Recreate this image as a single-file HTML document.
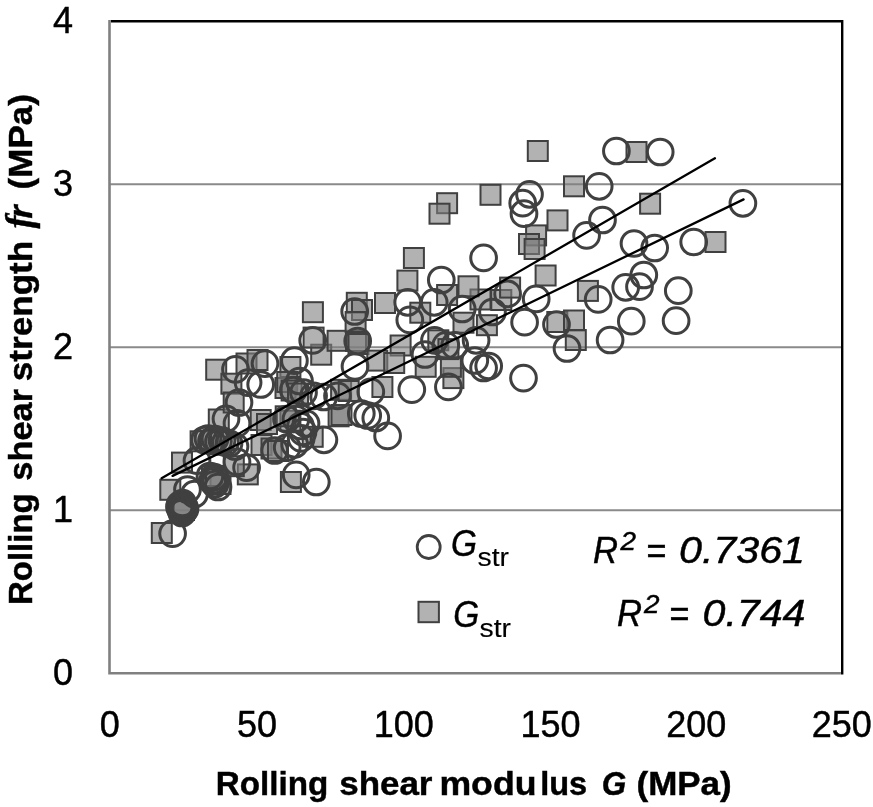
<!DOCTYPE html>
<html lang="en"><head><meta charset="utf-8"><title>Rolling shear strength vs modulus</title>
<style>
html,body{margin:0;padding:0;background:#fff;}
body{width:873px;height:807px;overflow:hidden;font-family:"Liberation Sans",sans-serif;}
svg{display:block;}
text{font-family:"Liberation Sans",sans-serif;fill:#000;stroke:#000;stroke-width:.45px;}
.tk{font-size:36px;}
.ti{font-size:33.5px;font-weight:bold;}
.it{font-style:italic;}
.lt text{stroke-width:.12px;}
.sq{fill:#7f7f7f;fill-opacity:.6;stroke:#404040;stroke-width:2;}
.ci{fill:none;stroke:#404040;stroke-width:3;}
</style></head><body>
<svg width="873" height="807" viewBox="0 0 873 807">
<rect width="873" height="807" fill="#fff"/>
<g stroke="#8a8a8a" stroke-width="2" fill="none">
<line x1="109.5" y1="510.2" x2="842.2" y2="510.2"/>
<line x1="109.5" y1="347.2" x2="842.2" y2="347.2"/>
<line x1="109.5" y1="184.3" x2="842.2" y2="184.3"/>
</g>
<g class="sq">
<rect x="151.8" y="523.0" width="20" height="20"/>
<rect x="160.3" y="479.8" width="20" height="20"/>
<rect x="171.0" y="497.0" width="20" height="20"/>
<rect x="174.0" y="500.0" width="20" height="20"/>
<rect x="172.0" y="452.6" width="20" height="20"/>
<rect x="190.6" y="431.3" width="20" height="20"/>
<rect x="208.8" y="409.5" width="20" height="20"/>
<rect x="206.2" y="359.7" width="20" height="20"/>
<rect x="210.5" y="474.0" width="20" height="20"/>
<rect x="237.8" y="464.4" width="20" height="20"/>
<rect x="223.8" y="456.2" width="20" height="20"/>
<rect x="201.0" y="430.5" width="20" height="20"/>
<rect x="211.0" y="432.0" width="20" height="20"/>
<rect x="202.0" y="466.0" width="20" height="20"/>
<rect x="206.0" y="469.0" width="20" height="20"/>
<rect x="172.5" y="498.5" width="20" height="20"/>
<rect x="280.9" y="472.0" width="20" height="20"/>
<rect x="221.4" y="373.7" width="20" height="20"/>
<rect x="236.5" y="353.5" width="20" height="20"/>
<rect x="247.5" y="350.0" width="20" height="20"/>
<rect x="223.7" y="392.5" width="20" height="20"/>
<rect x="250.7" y="410.0" width="20" height="20"/>
<rect x="257.0" y="414.0" width="20" height="20"/>
<rect x="251.5" y="435.0" width="20" height="20"/>
<rect x="261.5" y="438.5" width="20" height="20"/>
<rect x="268.0" y="441.0" width="20" height="20"/>
<rect x="280.4" y="357.0" width="20" height="20"/>
<rect x="275.5" y="378.0" width="20" height="20"/>
<rect x="277.2" y="372.0" width="20" height="20"/>
<rect x="281.6" y="380.5" width="20" height="20"/>
<rect x="288.0" y="383.5" width="20" height="20"/>
<rect x="280.4" y="410.7" width="20" height="20"/>
<rect x="275.7" y="406.3" width="20" height="20"/>
<rect x="311.2" y="344.7" width="20" height="20"/>
<rect x="327.6" y="330.8" width="20" height="20"/>
<rect x="346.0" y="331.0" width="20" height="20"/>
<rect x="348.5" y="334.0" width="20" height="20"/>
<rect x="303.6" y="327.6" width="20" height="20"/>
<rect x="331.1" y="379.8" width="20" height="20"/>
<rect x="338.7" y="381.0" width="20" height="20"/>
<rect x="328.6" y="406.3" width="20" height="20"/>
<rect x="331.5" y="405.0" width="20" height="20"/>
<rect x="302.7" y="426.8" width="20" height="20"/>
<rect x="302.9" y="302.2" width="20" height="20"/>
<rect x="346.8" y="292.8" width="20" height="20"/>
<rect x="352.0" y="300.0" width="20" height="20"/>
<rect x="345.6" y="312.0" width="20" height="20"/>
<rect x="375.0" y="293.0" width="20" height="20"/>
<rect x="397.4" y="270.6" width="20" height="20"/>
<rect x="403.9" y="248.0" width="20" height="20"/>
<rect x="410.3" y="302.7" width="20" height="20"/>
<rect x="390.6" y="335.5" width="20" height="20"/>
<rect x="367.3" y="350.6" width="20" height="20"/>
<rect x="384.2" y="353.0" width="20" height="20"/>
<rect x="372.4" y="377.0" width="20" height="20"/>
<rect x="443.4" y="368.1" width="20" height="20"/>
<rect x="440.9" y="356.8" width="20" height="20"/>
<rect x="415.7" y="356.8" width="20" height="20"/>
<rect x="428.3" y="330.3" width="20" height="20"/>
<rect x="438.4" y="339.1" width="20" height="20"/>
<rect x="453.5" y="312.7" width="20" height="20"/>
<rect x="476.9" y="315.2" width="20" height="20"/>
<rect x="491.3" y="290.0" width="20" height="20"/>
<rect x="470.5" y="289.5" width="20" height="20"/>
<rect x="437.1" y="285.0" width="20" height="20"/>
<rect x="547.3" y="312.0" width="20" height="20"/>
<rect x="527.8" y="141.0" width="20" height="20"/>
<rect x="480.5" y="184.8" width="20" height="20"/>
<rect x="437.1" y="193.2" width="20" height="20"/>
<rect x="429.5" y="203.7" width="20" height="20"/>
<rect x="547.5" y="210.4" width="20" height="20"/>
<rect x="526.1" y="225.4" width="20" height="20"/>
<rect x="519.0" y="234.0" width="20" height="20"/>
<rect x="524.6" y="239.0" width="20" height="20"/>
<rect x="535.6" y="265.5" width="20" height="20"/>
<rect x="458.5" y="276.3" width="20" height="20"/>
<rect x="500.1" y="277.6" width="20" height="20"/>
<rect x="626.5" y="142.0" width="20" height="20"/>
<rect x="564.0" y="176.3" width="20" height="20"/>
<rect x="640.1" y="193.7" width="20" height="20"/>
<rect x="705.5" y="232.0" width="20" height="20"/>
<rect x="577.9" y="280.9" width="20" height="20"/>
<rect x="564.0" y="310.5" width="20" height="20"/>
<rect x="565.8" y="330.0" width="20" height="20"/>
</g>
<g class="ci">
<circle cx="172.6" cy="533.6" r="12.85"/>
<circle cx="208.0" cy="438.5" r="12.85"/>
<circle cx="218.5" cy="441.5" r="12.85"/>
<circle cx="225.5" cy="442.5" r="12.85"/>
<circle cx="229.0" cy="443.5" r="12.85"/>
<circle cx="210.0" cy="476.0" r="12.85"/>
<circle cx="212.5" cy="481.0" r="12.85"/>
<circle cx="179.5" cy="507.0" r="12.85"/>
<circle cx="185.0" cy="509.0" r="12.85"/>
<circle cx="182.0" cy="513.0" r="12.85"/>
<circle cx="183.0" cy="505.0" r="12.85"/>
<circle cx="300.5" cy="426.0" r="12.85"/>
<circle cx="303.0" cy="432.0" r="12.85"/>
<circle cx="180.0" cy="505.0" r="12.85"/>
<circle cx="182.0" cy="508.0" r="12.85"/>
<circle cx="183.5" cy="511.0" r="12.85"/>
<circle cx="181.0" cy="510.5" r="12.85"/>
<circle cx="184.0" cy="506.5" r="12.85"/>
<circle cx="182.5" cy="503.0" r="12.85"/>
<circle cx="187.5" cy="489.5" r="12.85"/>
<circle cx="194.5" cy="494.0" r="12.85"/>
<circle cx="197.0" cy="460.7" r="12.85"/>
<circle cx="204.5" cy="440.0" r="12.85"/>
<circle cx="211.5" cy="441.0" r="12.85"/>
<circle cx="215.0" cy="439.0" r="12.85"/>
<circle cx="222.0" cy="440.5" r="12.85"/>
<circle cx="214.0" cy="477.0" r="12.85"/>
<circle cx="216.0" cy="480.0" r="12.85"/>
<circle cx="215.0" cy="484.0" r="12.85"/>
<circle cx="218.0" cy="487.0" r="12.85"/>
<circle cx="226.0" cy="418.8" r="12.85"/>
<circle cx="237.0" cy="423.4" r="12.85"/>
<circle cx="235.0" cy="446.5" r="12.85"/>
<circle cx="246.6" cy="467.6" r="12.85"/>
<circle cx="237.0" cy="461.9" r="12.85"/>
<circle cx="239.0" cy="402.5" r="12.85"/>
<circle cx="235.5" cy="369.4" r="12.85"/>
<circle cx="248.1" cy="382.6" r="12.85"/>
<circle cx="265.0" cy="363.6" r="12.85"/>
<circle cx="260.7" cy="384.5" r="12.85"/>
<circle cx="294.4" cy="360.7" r="12.85"/>
<circle cx="312.7" cy="340.4" r="12.85"/>
<circle cx="299.5" cy="381.0" r="12.85"/>
<circle cx="293.4" cy="390.0" r="12.85"/>
<circle cx="303.5" cy="392.6" r="12.85"/>
<circle cx="313.6" cy="395.8" r="12.85"/>
<circle cx="323.7" cy="397.0" r="12.85"/>
<circle cx="337.5" cy="395.8" r="12.85"/>
<circle cx="355.0" cy="366.5" r="12.85"/>
<circle cx="357.7" cy="341.0" r="12.85"/>
<circle cx="306.0" cy="423.5" r="12.85"/>
<circle cx="296.0" cy="419.0" r="12.85"/>
<circle cx="286.5" cy="419.0" r="12.85"/>
<circle cx="323.9" cy="439.8" r="12.85"/>
<circle cx="301.2" cy="438.4" r="12.85"/>
<circle cx="294.7" cy="444.3" r="12.85"/>
<circle cx="287.2" cy="447.5" r="12.85"/>
<circle cx="274.7" cy="450.5" r="12.85"/>
<circle cx="296.2" cy="474.9" r="12.85"/>
<circle cx="316.3" cy="482.0" r="12.85"/>
<circle cx="361.3" cy="413.5" r="12.85"/>
<circle cx="367.7" cy="415.5" r="12.85"/>
<circle cx="375.8" cy="418.0" r="12.85"/>
<circle cx="387.6" cy="435.9" r="12.85"/>
<circle cx="370.8" cy="391.8" r="12.85"/>
<circle cx="411.8" cy="389.6" r="12.85"/>
<circle cx="448.4" cy="386.9" r="12.85"/>
<circle cx="523.5" cy="378.1" r="12.85"/>
<circle cx="425.0" cy="354.5" r="12.85"/>
<circle cx="434.5" cy="340.3" r="12.85"/>
<circle cx="445.8" cy="345.4" r="12.85"/>
<circle cx="454.7" cy="345.4" r="12.85"/>
<circle cx="476.1" cy="340.3" r="12.85"/>
<circle cx="474.8" cy="360.5" r="12.85"/>
<circle cx="483.6" cy="368.0" r="12.85"/>
<circle cx="488.7" cy="366.0" r="12.85"/>
<circle cx="409.8" cy="319.9" r="12.85"/>
<circle cx="354.7" cy="311.5" r="12.85"/>
<circle cx="462.2" cy="309.0" r="12.85"/>
<circle cx="492.5" cy="312.0" r="12.85"/>
<circle cx="524.6" cy="322.2" r="12.85"/>
<circle cx="536.2" cy="298.9" r="12.85"/>
<circle cx="407.7" cy="302.3" r="12.85"/>
<circle cx="434.2" cy="302.3" r="12.85"/>
<circle cx="556.5" cy="324.5" r="12.85"/>
<circle cx="567.0" cy="348.5" r="12.85"/>
<circle cx="529.5" cy="194.3" r="12.85"/>
<circle cx="522.7" cy="203.2" r="12.85"/>
<circle cx="524.0" cy="213.7" r="12.85"/>
<circle cx="483.6" cy="257.9" r="12.85"/>
<circle cx="441.3" cy="280.0" r="12.85"/>
<circle cx="507.6" cy="293.9" r="12.85"/>
<circle cx="616.4" cy="151.0" r="12.85"/>
<circle cx="660.2" cy="152.0" r="12.85"/>
<circle cx="599.2" cy="186.3" r="12.85"/>
<circle cx="742.9" cy="203.3" r="12.85"/>
<circle cx="602.5" cy="220.0" r="12.85"/>
<circle cx="586.6" cy="235.4" r="12.85"/>
<circle cx="634.0" cy="243.5" r="12.85"/>
<circle cx="654.7" cy="248.0" r="12.85"/>
<circle cx="693.7" cy="242.0" r="12.85"/>
<circle cx="643.8" cy="275.0" r="12.85"/>
<circle cx="625.7" cy="287.3" r="12.85"/>
<circle cx="639.5" cy="286.7" r="12.85"/>
<circle cx="678.3" cy="290.7" r="12.85"/>
<circle cx="598.2" cy="299.4" r="12.85"/>
<circle cx="631.3" cy="321.2" r="12.85"/>
<circle cx="676.1" cy="320.7" r="12.85"/>
<circle cx="610.1" cy="340.0" r="12.85"/>
</g>
<g stroke="#000" stroke-width="2.3" stroke-linecap="round" fill="none">
<line x1="161.6" y1="478.3" x2="714.9" y2="158.3"/>
<line x1="172.6" y1="475.9" x2="743.6" y2="199.4"/>
</g>
<g fill="none" stroke-width="2.6"><path d="M110.8 21.3H842.2" stroke="#000"/><path d="M842.2 20.0V674.5" stroke="#000" stroke-width="2.4"/><path d="M109.5 20.0V673.2H840.9" stroke="#808080"/></g>

<g class="tk" text-anchor="middle">
<text x="109.8" y="737">0</text>
<text x="257" y="737">50</text>
<text x="403.7" y="737">100</text>
<text x="550.5" y="737">150</text>
<text x="696.2" y="737">200</text>
<text x="841.8" y="737">250</text>
</g>
<g class="tk" text-anchor="end">
<text x="73" y="33.2">4</text>
<text x="73" y="196">3</text>
<text x="73" y="358.7">2</text>
<text x="73" y="521.8">1</text>
<text x="73" y="685">0</text>
</g>
<g class="ti">
<text x="215.8" y="794.5" textLength="112.5" lengthAdjust="spacingAndGlyphs">Rolling</text>
<text x="339.2" y="794.5" textLength="93.3" lengthAdjust="spacingAndGlyphs">shear</text>
<text x="439.4" y="794.5" textLength="97.1" lengthAdjust="spacingAndGlyphs">modu</text>
<text x="540.2" y="794.5" textLength="47" lengthAdjust="spacingAndGlyphs">lus</text>
<text x="601.8" y="794.5" textLength="24.5" lengthAdjust="spacingAndGlyphs" class="it">G</text>
<text x="636.5" y="794.5" textLength="95.2" lengthAdjust="spacingAndGlyphs">(MPa)</text>
</g>
<g class="ti" transform="translate(32.3 0) rotate(-90)">
<text x="-604.9" y="0" textLength="111.5" lengthAdjust="spacingAndGlyphs">Rolling</text>
<text x="-480.7" y="0" textLength="91.8" lengthAdjust="spacingAndGlyphs">shear</text>
<text x="-381.2" y="0" textLength="140.4" lengthAdjust="spacingAndGlyphs">strength</text>
<text x="-228.4" y="0" class="it"><tspan font-family="Liberation Serif, serif" font-size="38">f</tspan><tspan dx="-2.8">r</tspan></text>
<text x="-189.4" y="0" textLength="95.3" lengthAdjust="spacingAndGlyphs">(MPa)</text>
</g>
<g class="it" font-size="36">
<text x="451" y="555.5" textLength="26" lengthAdjust="spacingAndGlyphs">G</text>
<text x="453.2" y="626.5" textLength="26" lengthAdjust="spacingAndGlyphs">G</text>
<text x="593" y="562.9" textLength="25" lengthAdjust="spacingAndGlyphs">R</text>
<text x="646" y="562.9" textLength="20" lengthAdjust="spacingAndGlyphs">=</text>
<text x="679" y="562.9" textLength="126" lengthAdjust="spacingAndGlyphs">0.7361</text>
<text x="617" y="626.1" textLength="25" lengthAdjust="spacingAndGlyphs">R</text>
<text x="669" y="626.1" textLength="20" lengthAdjust="spacingAndGlyphs">=</text>
<text x="702.5" y="626.1" textLength="103" lengthAdjust="spacingAndGlyphs">0.744</text>
</g>
<g class="it" font-size="25">
<text x="620.5" y="550" textLength="15.5" lengthAdjust="spacingAndGlyphs">2</text>
<text x="644" y="613.3" textLength="15.5" lengthAdjust="spacingAndGlyphs">2</text>
</g>
<g font-size="25" class="lt">
<text x="477.5" y="565.9" textLength="31.5" lengthAdjust="spacingAndGlyphs">str</text>
<text x="479.5" y="636.8" textLength="31.5" lengthAdjust="spacingAndGlyphs">str</text>
</g>
<circle cx="428.7" cy="547" r="11.5" fill="none" stroke="#404040" stroke-width="2.8"/>
<rect x="418.5" y="601.8" width="20.4" height="20.4" fill="#b2b2b2" stroke="#404040" stroke-width="2"/>

</svg></body></html>
